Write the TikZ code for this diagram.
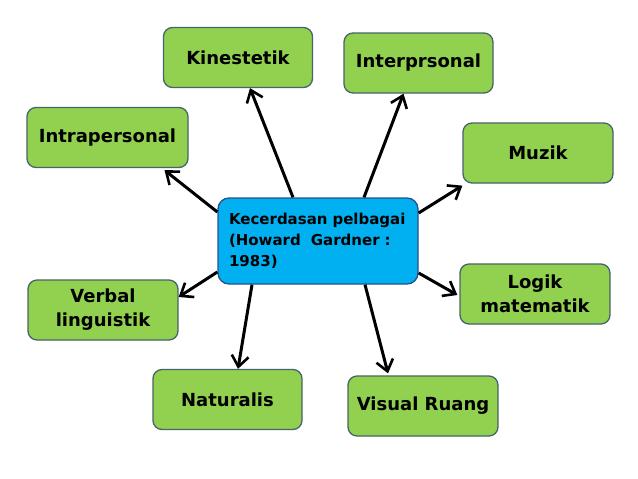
\documentclass[tikz,border=0pt]{standalone}
\usepackage{fontspec}
\setmainfont{DejaVu Sans}
\usetikzlibrary{arrows.meta}

\definecolor{boxgreen}{RGB}{146,208,80}
\definecolor{boxedge}{RGB}{70,100,105}
\definecolor{boxblue}{RGB}{0,176,240}
\definecolor{blueedge}{RGB}{40,80,140}

\tikzset{
  kotak/.style={draw=boxedge, line width=1.3pt, fill=boxgreen, rounded corners=9pt,
    minimum width=149pt, minimum height=60pt, align=center,
    font=\fontsize{18}{24}\selectfont\bfseries},
  pusat/.style={draw=blueedge, line width=1.3pt, fill=boxblue, rounded corners=11pt,
    minimum width=200pt, minimum height=86pt, text width=178pt, inner xsep=11pt, align=left,
    font=\fontsize{15}{21}\selectfont\bfseries},
  panah/.style={line width=3pt, -{Straight Barb[length=11pt, width=17pt, line width=2.6pt]}}
}

\begin{document}
\begin{tikzpicture}[x=1pt, y=-1pt]
  \useasboundingbox[fill=white] (0,0) rectangle (638,479);

  % kotak tengah
  \node[pusat] (ctr) at (318,241) {Kecerdasan pelbagai\\(Howard\ \ Gardner :\\1983)};

  % kotak-kotak kecerdasan
  \node[kotak] (kin) at (238,57.5) {Kinestetik};
  \node[kotak] (inter) at (418.5,63) {Interprsonal};
  \node[kotak, minimum width=161pt] (intra) at (107.5,137.5) {Intrapersonal};
  \node[kotak, minimum width=150pt] (muz) at (538,153) {Muzik};
  \node[kotak, minimum width=150pt] (vrb) at (103,310) {Verbal\\linguistik};
  \node[kotak, minimum width=150pt] (lgk) at (535,294) {Logik\\matematik};
  \node[kotak] (nat) at (227.5,399.5) {Naturalis};
  \node[kotak, minimum width=150pt] (vis) at (423,406) {Visual Ruang};

  % anak panah
  \draw[panah] ([xshift=-25pt]ctr.north) -- ([xshift=12pt]kin.south);
  \draw[panah] ([xshift=46pt]ctr.north) -- ([xshift=-15pt]inter.south);
  \draw[panah] ([yshift=29pt]ctr.west) -- ([xshift=57pt, yshift=-2pt]intra.south);
  \draw[panah] ([yshift=28pt]ctr.east) -- ([yshift=-2pt]muz.south west);
  \draw[panah] ([yshift=-31pt]ctr.west) -- ([yshift=13pt]vrb.east);
  \draw[panah] ([yshift=-32pt]ctr.east) -- ([xshift=-2pt, yshift=-1pt]lgk.west);
  \draw[panah] ([xshift=-66pt]ctr.south) -- ([xshift=10.5pt]nat.north);
  \draw[panah] ([xshift=47pt]ctr.south) -- ([xshift=-35pt, yshift=2pt]vis.north);
\end{tikzpicture}
\end{document}
